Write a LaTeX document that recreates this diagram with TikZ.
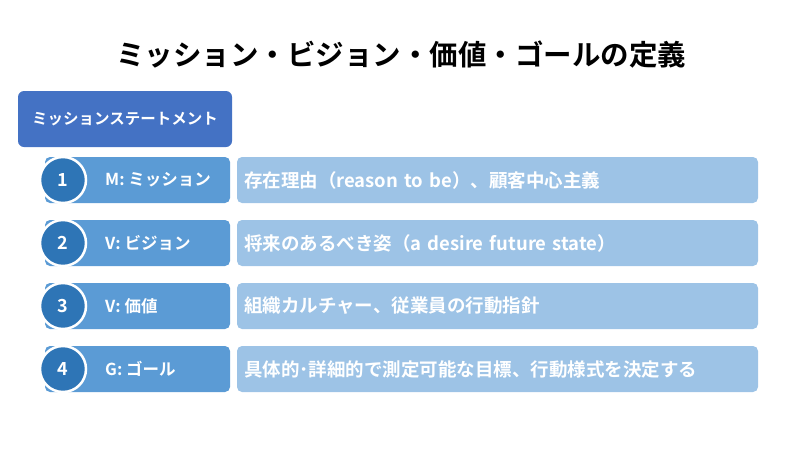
\documentclass[tikz,border=0pt]{standalone}
\usepackage{fontspec}
\setmainfont{Noto Sans CJK JP}[BoldFont={Noto Sans CJK JP Bold}]
\usetikzlibrary{positioning}
\definecolor{headblue}{HTML}{4472C4}
\definecolor{midblue}{HTML}{5B9BD5}
\definecolor{darkblue}{HTML}{2E75B6}
\definecolor{lightblue}{HTML}{9DC3E6}

\begin{document}
\begin{tikzpicture}[x=1pt,y=-1pt,
    head/.style={fill=headblue,rounded corners=6pt,minimum width=214pt,minimum height=56pt,
        text=white,font=\bfseries\fontsize{15.5}{18}\selectfont},
    key/.style={fill=midblue,rounded corners=5pt,minimum width=185pt,minimum height=46pt},
    keytext/.style={text=white,anchor=west,inner sep=0pt,font=\bfseries\fontsize{16.5}{20}\selectfont},
    num/.style={circle,fill=darkblue,draw=white,line width=2.5pt,minimum size=46pt,
        text=white,font=\bfseries\fontsize{18}{20}\selectfont},
    desc/.style={fill=lightblue,rounded corners=5pt,minimum width=521pt,minimum height=46pt,
        text=white,font=\bfseries\fontsize{18.5}{22}\selectfont,align=left,text width=507pt}]
    \useasboundingbox (0,0) rectangle (800,450);
    % title
    \node[font=\bfseries\fontsize{28.5}{32}\selectfont] (title) at (401,55)
        {ミッション・ビジョン・価値・ゴールの定義};
    \node[head] (hd) at (125,119) {ミッションステートメント};
    % the four rows
    \node[key] (k1) at (137.5,180) {};
    \node[key] (k2) at (137.5,243) {};
    \node[key] (k3) at (137.5,306) {};
    \node[key] (k4) at (137.5,369) {};
    \node[num] (n1) at (63,180) {1};
    \node[num] (n2) at (63,243) {2};
    \node[num] (n3) at (63,306) {3};
    \node[num] (n4) at (63,369) {4};
    \node[keytext] (l1) at (105,180) {M: ミッション};
    \node[keytext] (l2) at (105,243) {V: ビジョン};
    \node[keytext] (l3) at (105,306) {V: 価値};
    \node[keytext] (l4) at (105,369) {G: ゴール};
    \node[desc] (d1) at (497.5,180) {存在理由（reason to be）、顧客中心主義};
    \node[desc] (d2) at (497.5,243) {将来のあるべき姿（a desire future state）};
    \node[desc] (d3) at (497.5,306) {組織カルチャー、従業員の行動指針};
    \node[desc] (d4) at (497.5,369) {具体的･詳細的で測定可能な目標、行動様式を決定する};
\end{tikzpicture}
\end{document}
